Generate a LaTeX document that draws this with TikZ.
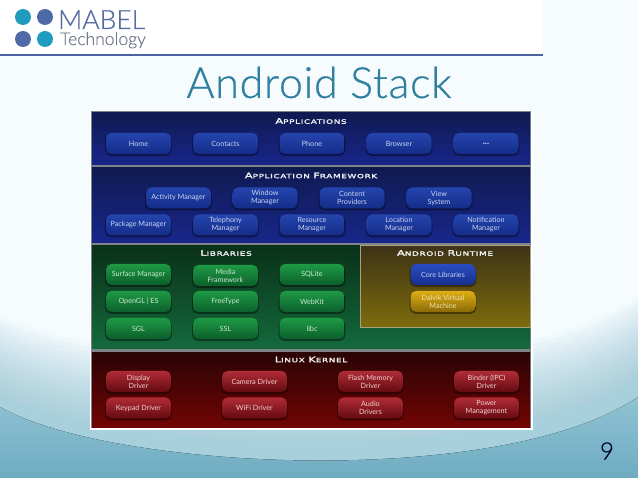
\documentclass[tikz,border=0pt]{standalone}
\usepackage{fontspec}
\setmainfont{Lato}
\newfontfamily\lightfont[FakeBold=0.5]{Lato Light}
\newfontfamily\titlefont[FakeBold=0.6,LetterSpace=1.8]{Lato Light}
\newfontfamily\hdfont[FakeStretch=1.5,LetterSpace=11,FakeBold=2.5]{DejaVu Sans}
\usetikzlibrary{shadows}
\newcommand{\Hd}[2]{{\hdfont\fontsize{7.6}{9}\selectfont #1\fontsize{5.9}{9}\selectfont #2}}
\newcommand{\SwA}{(0,395) .. controls (110,450) and (500,470) .. (638,377) -- (638,560) -- (0,560) -- cycle}
\newcommand{\SwB}{(0,407) .. controls (110,470) and (500,490) .. (638,397) -- (638,560) -- (0,560) -- cycle}
\definecolor{titleteal}{HTML}{2F7F9F}
\definecolor{logoteal}{HTML}{1F9BC0}
\definecolor{logoblue}{HTML}{4F69A8}
\definecolor{rulecol}{HTML}{4A639F}
\definecolor{HBt}{HTML}{2545AE}\definecolor{HBb}{HTML}{142C88}\definecolor{HBx}{HTML}{C8D4F0}
\definecolor{GBt}{HTML}{1F9A45}\definecolor{GBb}{HTML}{0B5F2B}\definecolor{GBx}{HTML}{CBE8D0}
\definecolor{RBt}{HTML}{B02C36}\definecolor{RBb}{HTML}{640A10}\definecolor{RBx}{HTML}{F0D0D0}
\definecolor{CBt}{HTML}{2A4CC0}\definecolor{CBb}{HTML}{16308F}
\definecolor{DBt}{HTML}{DFAE14}\definecolor{DBb}{HTML}{8A6A08}\definecolor{DBx}{HTML}{F0E2B0}
\definecolor{PAt}{HTML}{0F1A50}\definecolor{PAb}{HTML}{18268A}
\definecolor{PGt}{HTML}{0A3018}\definecolor{PGb}{HTML}{146A3C}
\definecolor{PYt}{HTML}{3D3216}\definecolor{PYb}{HTML}{7E6C0C}
\definecolor{PRt}{HTML}{2A0404}\definecolor{PRb}{HTML}{720404}
\definecolor{BGa}{HTML}{F6FCFE}
\definecolor{SoftT}{HTML}{7FB8CB}
\definecolor{SwLay}{HTML}{A8D2DE}
\definecolor{HillA}{HTML}{90C3D3}\definecolor{HillB}{HTML}{6EABC1}
\definecolor{FrameGray}{HTML}{7E8488}
\tikzset{
  x=1pt,y=-1pt,
  panel/.style={anchor=north west,inner sep=0pt},
  hd/.style={text=white!90!gray,inner sep=0pt},
  btn/.style={rounded corners=5.5pt,minimum width=65pt,minimum height=21pt,inner sep=0pt,
    align=center,font=\fontsize{7.2}{8}\selectfont,
    general shadow={fill=black,opacity=.4,shadow yshift=-1.5pt,shadow scale=1.03}},
  appbtn/.style={btn,top color=HBt,bottom color=HBb,text=HBx},
  grnbtn/.style={btn,top color=GBt,bottom color=GBb,text=GBx},
  redbtn/.style={btn,top color=RBt,bottom color=RBb,text=RBx},
  corebtn/.style={btn,top color=CBt,bottom color=CBb,text=HBx},
  dalbtn/.style={btn,top color=DBt,bottom color=DBb,text=DBx},
}
\begin{document}
\begin{tikzpicture}
\useasboundingbox (0,0) rectangle (638,478);
% slide background
\fill[BGa] (0,0) rectangle (638,478);
\fill[white] (0,0) rectangle (543,53);
\begin{scope}
\clip (0,0) rectangle (638,478);
\foreach \d in {0,5,...,80} {\fill[SoftT,opacity=.05,shift={(0,-\d)}] \SwA;}
\fill[SwLay,opacity=.6] \SwA;
\begin{scope}
\clip \SwB;
\fill[top color=HillA,bottom color=HillB] (0,397) rectangle (638,478);
\end{scope}
\end{scope}
% logo
\fill[logoteal] (23,17) circle (8);
\fill[logoblue] (45,17) circle (8);
\fill[logoblue] (23,39) circle (8);
\fill[logoteal] (45,39) circle (8);
\node[anchor=base west,inner sep=0pt,text=logoblue!85!gray,font=\lightfont\fontsize{26.5}{26}\selectfont] (mabel) at (58,29) {MABEL};
\node[anchor=base west,inner sep=0pt,text=gray!70!logoblue,font=\lightfont\fontsize{17.5}{17}\selectfont] (tech) at (60,45) {Technology};
\coordinate (ruleL) at (0,55); \coordinate (ruleR) at (543,55);
\draw[rulecol,line width=1.2pt] (ruleL) -- (ruleR);
\node[text=titleteal,font=\titlefont\fontsize{43}{43}\selectfont,inner sep=0pt,anchor=base] (title) at (319,98) {Android Stack};
% picture frame
\fill[white] (90,110) rectangle (532.5,430);
\fill[FrameGray] (91,111) rectangle (531,428.5);
% panels
\node[panel,minimum width=438pt,minimum height=52pt,top color=PAt,bottom color=PAb] (papp) at (92,112) {};
\node[panel,minimum width=438pt,minimum height=75pt,top color=PAt,bottom color=PAb] (pfw) at (92,167) {};
\node[panel,minimum width=438pt,minimum height=103pt,top color=PGt,bottom color=PGb] (plib) at (92,245) {};
\node[panel,draw=gray!80!yellow,line width=.8pt,minimum width=170pt,minimum height=82pt,top color=PYt,bottom color=PYb] (prt) at (360,245) {};
\node[panel,minimum width=438pt,minimum height=75pt,top color=PRt,bottom color=PRb] (pkn) at (92,352) {};
% headings
\node[hd] (happ) at (311,121) {\Hd{A}{PPLICATIONS}};
\node[hd] (hfw) at (311,175.5) {\Hd{A}{PPLICATION }\Hd{F}{RAMEWORK}};
\node[hd] (hlib) at (226,253) {\Hd{L}{IBRARIES}};
\node[hd] (hrt) at (445,253) {\Hd{A}{NDROID }\Hd{R}{UNTIME}};
\node[hd] (hkn) at (311,359.5) {\Hd{L}{INUX }\Hd{K}{ERNEL}};
% applications
\node[appbtn] (home) at (138.5,143.5) {Home};
\node[appbtn] (contacts) at (225.5,143.5) {Contacts};
\node[appbtn] (phone) at (312,143.5) {Phone};
\node[appbtn] (browser) at (399,143.5) {Browser};
\node[appbtn,font=\bfseries\fontsize{9}{9}\selectfont] (more) at (486,143.5) {...};
% framework
\node[appbtn] (activity) at (178.5,198) {Activity Manager};
\node[appbtn] (window) at (265,198) {Window\\Manager};
\node[appbtn] (content) at (352,198) {Content\\Providers};
\node[appbtn] (view) at (439,198) {View\\System};
\node[appbtn] (package) at (138.5,225) {Package Manager};
\node[appbtn] (telephony) at (225.5,225) {Telephony\\Manager};
\node[appbtn] (resource) at (312,225) {Resource\\Manager};
\node[appbtn] (location) at (399,225) {Location\\Manager};
\node[appbtn] (notification) at (486,225) {Notification\\Manager};
% libraries
\node[grnbtn] (surface) at (138.5,274.5) {Surface Manager};
\node[grnbtn] (media) at (225.5,275.5) {Media\\Framework};
\node[grnbtn] (sqlite) at (312,274.5) {SQLite};
\node[grnbtn] (opengl) at (138.5,301.5) {OpenGL | ES};
\node[grnbtn] (freetype) at (225.5,301.5) {FreeType};
\node[grnbtn] (webkit) at (312,301.5) {WebKit};
\node[grnbtn] (sgl) at (138.5,328.5) {SGL};
\node[grnbtn] (ssl) at (225.5,328.5) {SSL};
\node[grnbtn] (libc) at (312,328.5) {libc};
% runtime
\node[corebtn] (core) at (443,274.5) {Core Libraries};
\node[dalbtn] (dalvik) at (443,301.5) {Dalvik Virtual\\Machine};
% kernel
\node[redbtn] (display) at (138.5,381.5) {Display\\Driver};
\node[redbtn] (camera) at (254.5,381.5) {Camera Driver};
\node[redbtn] (flash) at (370.5,381.5) {Flash Memory\\Driver};
\node[redbtn] (binder) at (486.5,381.5) {Binder (IPC)\\Driver};
\node[redbtn] (keypad) at (138.5,408) {Keypad Driver};
\node[redbtn] (wifi) at (254.5,408) {WiFi Driver};
\node[redbtn] (audio) at (370.5,408) {Audio\\Drivers};
\node[redbtn] (power) at (486.5,408) {Power\\Management};
% slide number
\node[text=black!80!blue,font=\lightfont\fontsize{24}{24}\selectfont,inner sep=0pt] (num) at (607,451) {9};
\end{tikzpicture}
\end{document}
